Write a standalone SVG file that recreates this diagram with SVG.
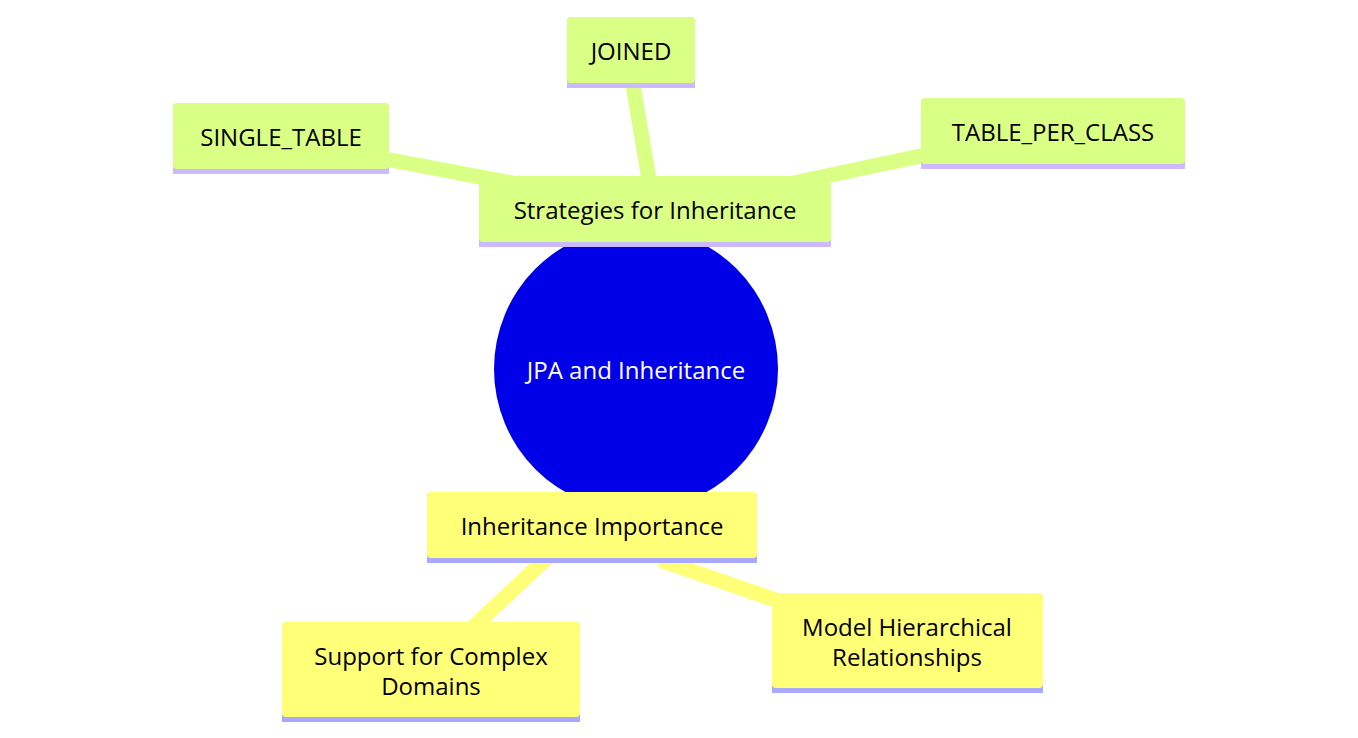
<svg xmlns="http://www.w3.org/2000/svg" width="1358" height="738" viewBox="0 0 1358 738">
<style>
text{font-family:"Open Sans","Noto Sans",sans-serif;font-size:24px;text-anchor:middle;dominant-baseline:central;fill:#000}
.g{fill:#daff85}.gb{fill:#cdb9ff}
.y{fill:#ffff78}.yb{fill:#a8a8ff}
.eg{stroke:#daff85;stroke-width:15;fill:none}
.ey{stroke:#ffff78;stroke-width:15;fill:none}
</style>
<rect width="1358" height="738" fill="#fff"/>
<g id="connectors">
<line class="eg" x1="380" y1="158" x2="560" y2="192"/>
<line class="eg" x1="633" y1="85" x2="650" y2="185"/>
<line class="eg" x1="925" y1="155" x2="760" y2="190"/>
<line class="ey" x1="550" y1="555" x2="470" y2="630"/>
<line class="ey" x1="660" y1="560" x2="790" y2="605"/>
</g>
<g id="root"><circle cx="636" cy="369" r="142" fill="#0000e8"/><text x="636" y="369" style="fill:#fff">JPA and Inheritance</text></g>
<g id="strategies"><rect class="gb" x="479" y="178" width="352" height="69"/><rect class="g" x="479" y="176" width="352" height="66" rx="4"/><text x="655" y="209">Strategies for Inheritance</text></g>
<g id="single"><rect class="gb" x="173" y="105" width="216" height="69"/><rect class="g" x="173" y="103" width="216" height="66" rx="4"/><text x="281" y="136">SINGLE_TABLE</text></g>
<g id="joined"><rect class="gb" x="567" y="19" width="128" height="69"/><rect class="g" x="567" y="17" width="128" height="66" rx="4"/><text x="631" y="50">JOINED</text></g>
<g id="tpc"><rect class="gb" x="921" y="100" width="264" height="69"/><rect class="g" x="921" y="98" width="264" height="66" rx="4"/><text x="1053" y="131">TABLE_PER_CLASS</text></g>
<g id="importance"><rect class="yb" x="427" y="494" width="330" height="69"/><rect class="y" x="427" y="492" width="330" height="66" rx="4"/><text x="592" y="525">Inheritance Importance</text></g>
<g id="support"><rect class="yb" x="282" y="624" width="298" height="98"/><rect class="y" x="282" y="622" width="298" height="95" rx="4"/><text x="431" y="655">Support for Complex</text><text x="431" y="685">Domains</text></g>
<g id="model"><rect class="yb" x="772" y="595" width="271" height="98"/><rect class="y" x="772" y="593" width="271" height="95" rx="4"/><text x="907" y="626">Model Hierarchical</text><text x="907" y="656">Relationships</text></g>
</svg>
